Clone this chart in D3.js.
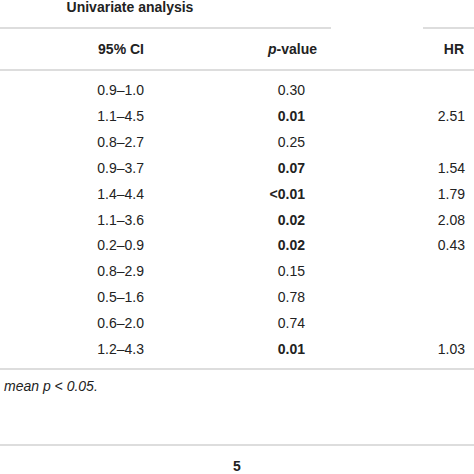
<!DOCTYPE html>
<html><head><meta charset="utf-8">
<script src="https://cdn.jsdelivr.net/npm/d3@7"></script>
<style>body{margin:0;background:#fff}text{font-family:"Liberation Sans",Arial,sans-serif;fill:#222}</style>
</head><body><div id="chart"></div>
<script>
const ci = ["0.9–1.0","1.1–4.5","0.8–2.7","0.9–3.7","1.4–4.4","1.1–3.6","0.2–0.9","0.8–2.9","0.5–1.6","0.6–2.0","1.2–4.3"];
const pval = ["0.30","0.01","0.25","0.07","<0.01","0.02","0.02","0.15","0.78","0.74","0.01"];
const pBold = [false,true,false,true,true,true,true,false,false,false,true];
const hr = ["","2.51","","1.54","1.79","2.08","0.43","","","","1.03"];

const W = 474, H = 474;
const svg = d3.select("#chart").append("svg").attr("width", W).attr("height", H);

const y = d3.scaleLinear().domain([0, ci.length - 1]).range([90, 349]);

function line(x1, x2, yy) {
  svg.append("line").attr("x1", x1).attr("x2", x2).attr("y1", yy).attr("y2", yy)
    .attr("stroke", "#bbb").attr("stroke-width", 1.2);
}

svg.append("text").attr("x", 130).attr("y", 12).attr("text-anchor", "middle")
  .attr("font-size", 14).attr("font-weight", "bold").text("Univariate analysis");
line(0, 331, 28); line(423, 474, 28);

const head = svg.append("g").attr("font-size", 14).attr("font-weight", "bold").attr("text-anchor", "end");
head.append("text").attr("x", 144).attr("y", 54).text("95% CI");
const pv = head.append("text").attr("x", 317).attr("y", 54);
pv.append("tspan").attr("font-style", "italic").text("p");
pv.append("tspan").text("-value");
head.append("text").attr("x", 464).attr("y", 54).text("HR");
line(0, 474, 70);

const rows = svg.append("g").attr("font-size", 14).attr("text-anchor", "end");
rows.selectAll(".ci").data(ci).join("text").attr("x", 144).attr("y", (d, i) => y(i) + 5).text(d => d);
rows.selectAll(".pv").data(pval).join("text").attr("x", 305).attr("y", (d, i) => y(i) + 5)
  .attr("font-weight", (d, i) => pBold[i] ? "bold" : "normal").text(d => d);
rows.selectAll(".hr").data(hr).join("text").attr("x", 465).attr("y", (d, i) => y(i) + 5).text(d => d);
line(0, 474, 369);

svg.append("text").attr("x", 4).attr("y", 391).attr("font-size", 14).attr("font-style", "italic")
  .text("mean p < 0.05.");
line(0, 474, 445);
svg.append("text").attr("x", 237).attr("y", 471).attr("text-anchor", "middle").attr("font-size", 14)
  .attr("font-weight", "bold").attr("fill", "#444").text("5");
</script></body></html>
